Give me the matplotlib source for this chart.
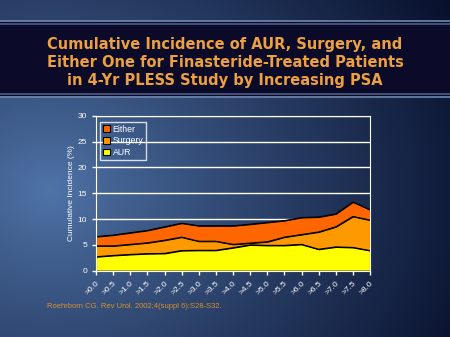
import numpy as np
import matplotlib
matplotlib.use("Agg")
import matplotlib.pyplot as plt
from matplotlib.patches import Rectangle

# PSA categories (x axis) and cumulative incidence (%) per outcome
psa_labels = [">0.0", ">0.5", ">1.0", ">1.5", ">2.0", ">2.5", ">3.0", ">3.5", ">4.0",
              ">4.5", ">5.0", ">5.5", ">6.0", ">6.5", ">7.0", ">7.5", ">8.0"]
either = [6.6, 6.9, 7.35, 7.8, 8.5, 9.2, 8.7, 8.7, 8.7, 9.0, 9.35, 9.7, 10.3, 10.4, 11.0, 13.3, 11.8]
surgery = [4.8, 4.8, 5.1, 5.4, 5.9, 6.5, 5.7, 5.7, 5.1, 5.35, 5.6, 6.5, 7.0, 7.5, 8.5, 10.5, 9.8]
aur = [2.7, 2.95, 3.15, 3.3, 3.35, 3.9, 3.95, 3.95, 4.45, 5.0, 4.9, 4.9, 5.1, 4.15, 4.6, 4.5, 3.9]
series_names = ["Either", "Surgery", "AUR"]
series_colors = ["#ff6600", "#ff9900", "#ffff00"]

title_lines = ["Cumulative Incidence of AUR, Surgery, and",
               "Either One for Finasteride-Treated Patients",
               "in 4-Yr PLESS Study by Increasing PSA"]
citation = "Roehrborn CG. Rev Urol. 2002;4(suppl 6):S28-S32."

W, H = 450, 337
fig = plt.figure(figsize=(W / 100, H / 100), dpi=100)

# slide background: radial blue gradient
bg = fig.add_axes([0, 0, 1, 1])
yy, xx = np.mgrid[0:H, 0:W]
d = np.sqrt((xx - 50.0) ** 2 + ((yy - 190.0) * 1.2) ** 2) / 470.0
d = np.clip(d, 0, 1) ** 0.9
c0 = np.array([0x50, 0x74, 0xa8]) / 255.0
c1 = np.array([0x06, 0x0e, 0x2a]) / 255.0
img = c0[None, None, :] * (1 - d[..., None]) + c1[None, None, :] * d[..., None]
bg.imshow(img, extent=[0, W, H, 0], aspect="auto")
bg.set_xlim(0, W)
bg.set_ylim(H, 0)
bg.axis("off")

# title band
bg.add_patch(Rectangle((0, 22), W, 73, color="#0b0a28", zorder=2))
for yl, col in [(20.5, "#6f86ad"), (24, "#4b5f88"), (94, "#4b5f88"), (97, "#6f86ad")]:
    bg.plot([0, W], [yl, yl], color=col, lw=1.2, zorder=3)
for i, line in enumerate(title_lines):
    bg.text(W / 2, 44 + 18.5 * i, line, ha="center", va="center", color="#eca040",
            fontsize=10.5, fontweight="bold", family="DejaVu Sans", zorder=4)
bg.text(47, 306, citation, ha="left", va="center", color="#d89030",
        fontsize=5.5, family="Liberation Sans", zorder=4)

# chart
ax = fig.add_axes([96 / W, 1 - 270.7 / H, (370 - 96) / W, (270.7 - 115.7) / H])
ax.patch.set_alpha(0)
x = np.arange(len(psa_labels))
for vals, name, col in zip([either, surgery, aur], series_names, series_colors):
    ax.fill_between(x, 0, vals, facecolor=col, edgecolor="black", lw=0.8, label=name)
    ax.plot(x, vals, color="black", lw=0.8)

ax.set_xlim(0, len(psa_labels) - 1)
ax.set_ylim(0, 30)
ax.set_yticks(range(0, 31, 5))
ax.set_xticks(x)
ax.set_xticklabels(psa_labels, rotation=45, ha="right", rotation_mode="anchor")
ax.grid(axis="y", color="white", lw=1)
ax.set_axisbelow(True)
for s in ax.spines.values():
    s.set_color("white")
ax.tick_params(colors="white", labelsize=6, length=3, width=1)
for lbl in ax.get_xticklabels() + ax.get_yticklabels():
    lbl.set_family("Liberation Sans")
ax.set_ylabel("Cumulative Incidence (%)", color="white", fontsize=6,
              family="Liberation Sans", labelpad=2)

leg = ax.legend(loc="upper left", bbox_to_anchor=(0.01, 0.97), fontsize=6.3,
                frameon=True, fancybox=False, handlelength=0.8, handleheight=0.8,
                handletextpad=0.3, borderpad=0.3, labelspacing=0.3,
                borderaxespad=0.2)
leg.get_frame().set_edgecolor("white")
leg.get_frame().set_facecolor("none")
for t in leg.get_texts():
    t.set_color("white")
    t.set_family("Liberation Sans")

fig.savefig("out.png", dpi=100)
